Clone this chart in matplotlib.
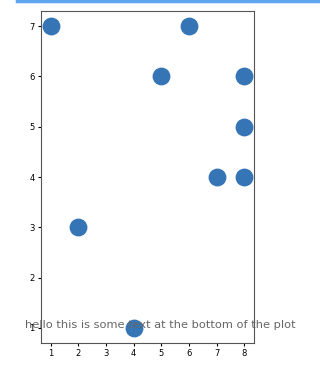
import matplotlib
matplotlib.use("Agg")
import matplotlib.pyplot as plt
from matplotlib.lines import Line2D

# point coordinates
x_vals = [1, 6, 5, 8, 8, 7, 8, 2, 4]
y_vals = [7, 7, 6, 6, 5, 4, 4, 3, 1]
note = "hello this is some text at the bottom of the plot"

fig = plt.figure(figsize=(3.2, 3.69), dpi=100)
ax = fig.add_axes([0.128, 0.0705, 0.666, 0.8995])
ax.scatter(x_vals, y_vals, s=140, color="#3575b5", zorder=2)
ax.tick_params(labelsize=6, length=2.5, pad=2)
for sp in ax.spines.values():
    sp.set_color("#555555")
    sp.set_linewidth(0.8)

# caption sitting over the bottom of the axes
fig.text(0.5, 0.12, note, ha="center", va="center", fontsize=8.2, color="#666666", zorder=5)

# thin blue bar along the top edge
fig.add_artist(Line2D([0.053, 1.0], [0.997, 0.997], color="#5fa4ee", linewidth=2.5,
                      transform=fig.transFigure))

fig.savefig("out.png", dpi=100)
